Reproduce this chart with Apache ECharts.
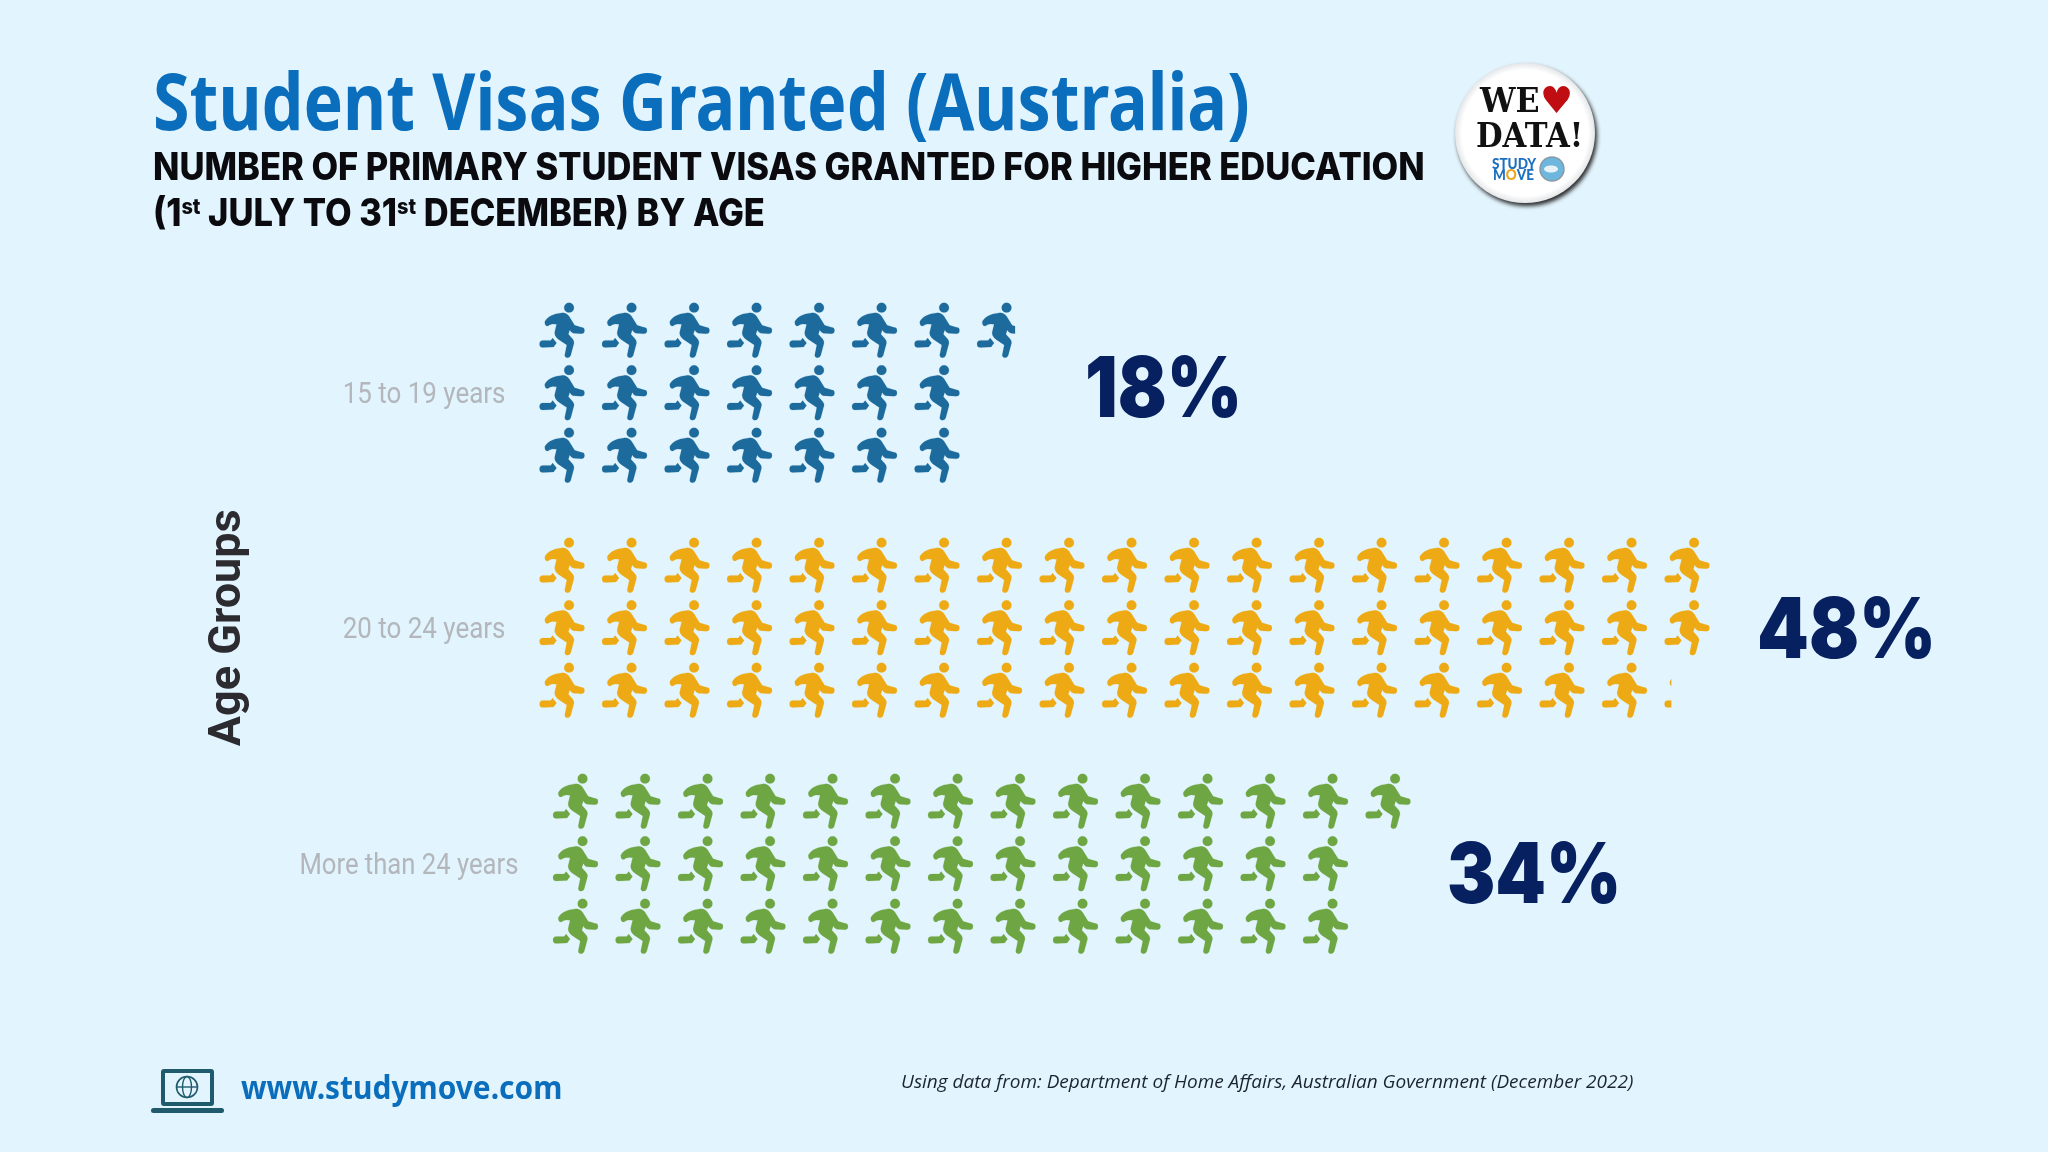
<!DOCTYPE html>
<html>
<head>
<meta charset="utf-8">
<title>Student Visas Granted (Australia)</title>
<style>
    html, body { margin: 0; padding: 0; background: #e2f4fd; }
    #chart { width: 2048px; height: 1152px; }
</style>
<script src="https://cdn.jsdelivr.net/npm/echarts@6/dist/echarts.min.js"></script>
</head>
<body>
<div id="chart"></div>
<script>
// one icon = one unit, three rows of icons per age group
var age_groups = ['15 to 19 years', '20 to 24 years', 'More than 24 years']
var shares = [18, 48, 34]
var rows_15_19 = [7.75, 7, 7]
var rows_20_24 = [19, 19, 18.25]
var rows_over_24 = [14, 13, 13]
var group_colors = ['#1c6b9c', '#edaa14', '#6ea644']

var runner = 'path://M75 14a15 15 0 1 0 30 0a15 15 0 1 0 -30 0Z' +
    'M16 57C22 44 40 32 67 30C78 29 84 33 90 40L107 68L127 74Q137 74 137 84Q137 94 127 94L103 92Q97 91 92 82L88 95L101 110Q106 116 105 123L95 160Q92 167 85 167Q76 166 77 158L83 128L58 111Q46 103 46 90L52 65L40 64Q30 66 26 70Q16 72 16 57Z' +
    'M10 114L34 114L40 107L52 122L43 134L10 136Q0 136 0 125Q0 114 10 114Z'

var PITCH = 62.5
var UNITS = 20
var ICON_W = 45
var ICON_H = 55
var grid_lefts = [530.75, 530.75, 544.25]
var grid_tops = [299, 534, 770]

function make_grid(i)
{
    return { left: grid_lefts[i], top: grid_tops[i], width: PITCH * UNITS, height: PITCH * 3 }
}

function make_x_axis(i)
{
    return { type: 'value', gridIndex: i, min: 0, max: UNITS, show: false }
}

function make_y_axis(i)
{
    var axis = {
        type: 'category',
        gridIndex: i,
        inverse: true,
        data: ['', age_groups[i], ''],
        axisLine: { show: false },
        axisTick: { show: false },
        axisLabel: { show: false }
    }
    if (i == 1) {
        axis.name = 'Age Groups'
        axis.nameLocation = 'middle'
        axis.nameRotate = 90
        axis.nameGap = 280
        axis.nameTextStyle = { color: '#2b2b30', fontSize: 45, fontWeight: 'bold', fontFamily: 'Roboto' }
    }
    return axis
}

// fixed repeat over the whole axis, the value only clips it
function make_series(i, values)
{
    return {
        type: 'pictorialBar',
        xAxisIndex: i,
        yAxisIndex: i,
        name: age_groups[i],
        data: values,
        symbol: runner,
        symbolSize: [ICON_W, ICON_H],
        symbolRepeat: UNITS,
        symbolBoundingData: UNITS,
        symbolMargin: '1!',
        symbolClip: true,
        itemStyle: { color: group_colors[i], borderColor: group_colors[i], borderWidth: 1.2 },
        silent: true,
        animation: false
    }
}

function text_item(text, x, y, size, color, family, weight, scale_x, extra)
{
    var style = {
        text: text, x: 0, y: 0, fill: color,
        fontSize: size, fontFamily: family, fontWeight: weight,
        textVerticalAlign: 'middle'
    }
    for (var k in extra) style[k] = extra[k]
    return { type: 'text', silent: true, x: x, y: y, scaleX: scale_x || 1, style: style }
}

function group_label(i, right, y, scale_x)
{
    return text_item(age_groups[i], right, y, 30, '#b3b6bb', 'Roboto', 'normal', scale_x, { textAlign: 'right' })
}

function badge_items()
{
    var cx = 1525, cy = 133
    return [
        {
            type: 'circle',
            shape: { cx: cx, cy: cy, r: 70 },
            style: {
                fill: { type: 'radial', x: 0.5, y: 0.5, r: 0.5, colorStops: [
                    { offset: 0, color: '#ffffff' }, { offset: 0.9, color: '#ffffff' }, { offset: 1, color: '#e4e6e8' }
                ] },
                shadowColor: 'rgba(20,20,20,0.9)', shadowBlur: 4, shadowOffsetX: 2, shadowOffsetY: 3
            }
        },
        text_item('WE', cx - 45, cy - 30, 34, '#111111', '"DejaVu Serif"', 'bold', 0.93),
        text_item('\u2665', cx + 15, cy - 30, 37, '#bf0d12', '"DejaVu Sans"', 'normal'),
        text_item('DATA!', cx - 49, cy + 5, 33, '#111111', '"DejaVu Serif"', 'bold', 0.93),
        text_item('STUDY', cx - 33, cy + 31, 15, '#1d6fc0', 'Lato', 900, 0.9),
        text_item('M{o|O}VE', cx - 32, cy + 42, 15, '#1d6fc0', 'Lato', 900, 0.9, {
            rich: { o: { fontSize: 15, fontFamily: 'Lato', fontWeight: 900, fill: '#eea51c' } }
        }),
        { type: 'circle', shape: { cx: cx + 27, cy: cy + 36, r: 12 }, style: { fill: '#6db7de', stroke: '#8a9aa3', lineWidth: 1.5 } },
        { type: 'ellipse', shape: { cx: cx + 26, cy: cy + 36, rx: 7, ry: 3.5 }, style: { fill: '#e6f2f5' } }
    ]
}

function laptop_items()
{
    var dark = '#1f5a6d'
    return [
        { type: 'rect', shape: { x: 163, y: 1071, width: 49, height: 33, r: 1 }, style: { fill: '#e2f4fd', stroke: dark, lineWidth: 4 } },
        { type: 'rect', shape: { x: 151, y: 1108, width: 73, height: 5, r: 2.5 }, style: { fill: dark } },
        { type: 'circle', shape: { cx: 187, cy: 1087, r: 10.5 }, style: { fill: 'none', stroke: dark, lineWidth: 1.6 } },
        { type: 'ellipse', shape: { cx: 187, cy: 1087, rx: 4.5, ry: 10.5 }, style: { fill: 'none', stroke: dark, lineWidth: 1.4 } },
        { type: 'line', shape: { x1: 176.5, y1: 1087, x2: 197.5, y2: 1087 }, style: { stroke: dark, lineWidth: 1.4 } }
    ]
}

var instance = echarts.init(document.getElementById('chart'))

var graphic_items = [
    text_item('Student Visas Granted (Australia)', 153, 108, 78, '#0a6ebd', '"Noto Sans"', 'bold', 0.851),
    text_item('NUMBER OF PRIMARY STUDENT VISAS GRANTED FOR HIGHER EDUCATION', 153, 169, 38, '#0b0b0f', 'Inter', 800, 0.908),
    text_item('(1{s|st} JULY TO 31{s|st} DECEMBER) BY AGE', 153, 215, 38, '#0b0b0f', 'Inter', 800, 0.908, {
        rich: { s: { fontSize: 22, fontFamily: 'Inter', fontWeight: 800, fill: '#0b0b0f', verticalAlign: 'top' } }
    }),
    group_label(0, 505.5, 395, 0.865),
    group_label(1, 505.5, 630, 0.865),
    group_label(2, 518.5, 866, 0.855),
    text_item(shares[0] + '%', 1085, 392, 84, '#072160', 'Inter', 900, 0.86),
    text_item(shares[1] + '%', 1757, 633, 84, '#072160', 'Inter', 900, 0.88),
    text_item(shares[2] + '%', 1447, 878, 84, '#072160', 'Inter', 900, 0.86),
    text_item('www.studymove.com', 241, 1090, 32, '#0a6ebd', '"Noto Sans"', 'bold', 0.935),
    text_item('Using data from: Department of Home Affairs, Australian Government (December 2022)', 901, 1083, 19, '#1b2530', '"Open Sans"', 'normal', 1, { fontStyle: 'italic' })
].concat(badge_items(), laptop_items())

instance.setOption({
    backgroundColor: '#e2f4fd',
    animation: false,
    grid: [make_grid(0), make_grid(1), make_grid(2)],
    xAxis: [make_x_axis(0), make_x_axis(1), make_x_axis(2)],
    yAxis: [make_y_axis(0), make_y_axis(1), make_y_axis(2)],
    series: [make_series(0, rows_15_19), make_series(1, rows_20_24), make_series(2, rows_over_24)],
    graphic: { elements: graphic_items }
})
</script>
</body>
</html>
